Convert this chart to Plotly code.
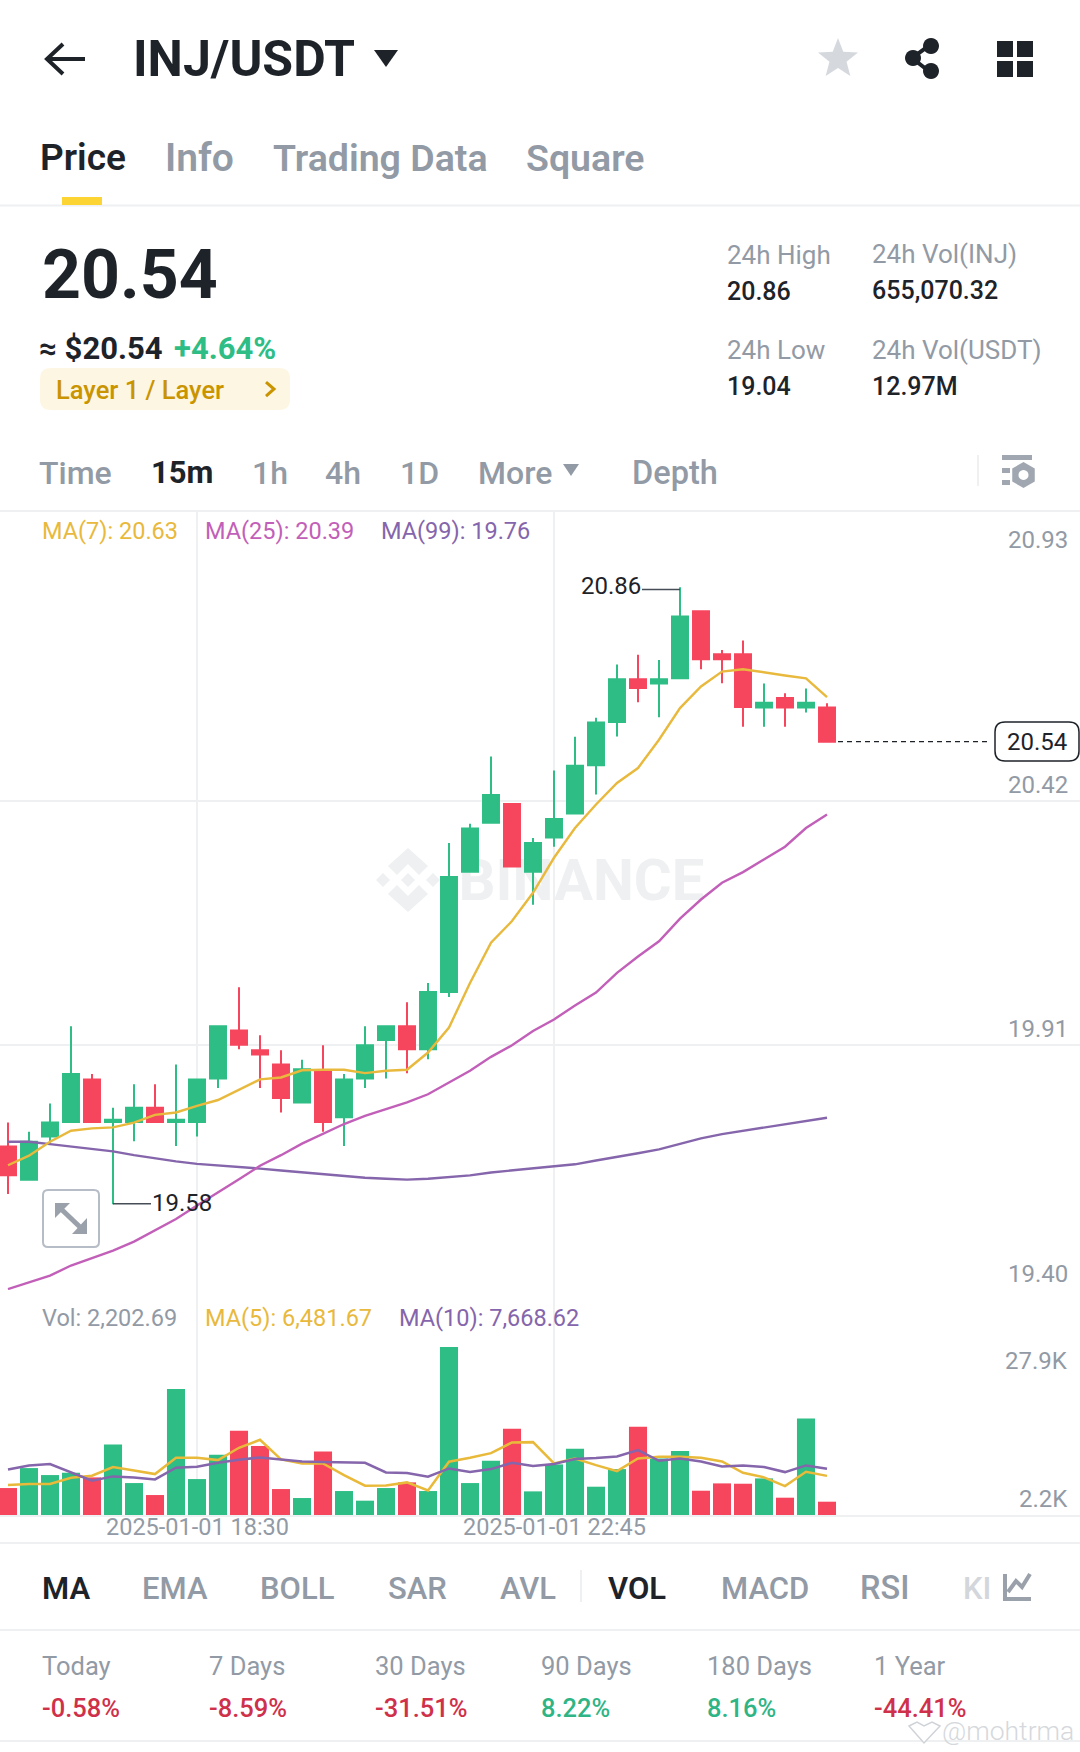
import math
import pandas as pd
import plotly.graph_objects as go

W = 1080
H = 1752

# 15m candles
times = pd.date_range("2025-01-01 16:15", periods=40, freq="15min")
opens = [19.699, 19.630, 19.720, 19.750, 19.839, 19.750, 19.750, 19.780, 19.750, 19.750,
         19.841, 19.941, 19.900, 19.870, 19.791, 19.857, 19.760, 19.841, 19.921, 19.950,
         19.902, 20.021, 20.272, 20.374, 20.413, 20.272, 20.343, 20.393, 20.494, 20.584,
         20.673, 20.664, 20.675, 20.815, 20.725, 20.725, 20.614, 20.634, 20.614, 20.614]
closes = [19.639, 19.709, 19.749, 19.850, 19.750, 19.755, 19.780, 19.750, 19.755, 19.839,
          19.950, 19.911, 19.891, 19.800, 19.860, 19.750, 19.839, 19.910, 19.950, 19.902,
          20.021, 20.261, 20.362, 20.432, 20.283, 20.332, 20.382, 20.493, 20.583, 20.673,
          20.655, 20.673, 20.804, 20.715, 20.715, 20.615, 20.624, 20.614, 20.624, 20.543]
highs = [19.749, 19.730, 19.789, 19.950, 19.850, 19.780, 19.829, 19.829, 19.870, 19.839,
         19.950, 20.031, 19.931, 19.900, 19.880, 19.910, 19.850, 19.950, 19.950, 20.000,
         20.040, 20.332, 20.372, 20.512, 20.413, 20.342, 20.483, 20.553, 20.593, 20.704,
         20.724, 20.713, 20.865, 20.815, 20.734, 20.754, 20.664, 20.644, 20.654, 20.623]
lows = [19.600, 19.630, 19.707, 19.750, 19.750, 19.579, 19.710, 19.750, 19.700, 19.720,
        19.821, 19.902, 19.821, 19.770, 19.791, 19.730, 19.700, 19.821, 19.841, 19.852,
        19.881, 20.011, 20.272, 20.374, 20.283, 20.203, 20.324, 20.393, 20.433, 20.554,
        20.625, 20.594, 20.675, 20.694, 20.665, 20.574, 20.574, 20.574, 20.604, 20.543]

ma7 = [19.660, 19.680, 19.709, 19.732, 19.737, 19.739, 19.749, 19.765, 19.770, 19.784,
       19.796, 19.818, 19.839, 19.843, 19.858, 19.859, 19.859, 19.852, 19.857, 19.859,
       19.895, 19.947, 20.040, 20.124, 20.169, 20.228, 20.301, 20.363, 20.412, 20.457,
       20.488, 20.547, 20.613, 20.658, 20.689, 20.694, 20.687, 20.681, 20.675, 20.636]
ma25 = [19.402, 19.416, 19.430, 19.451, 19.467, 19.482, 19.501, 19.524, 19.548, 19.576,
        19.603, 19.631, 19.659, 19.681, 19.705, 19.725, 19.746, 19.763, 19.777, 19.791,
        19.808, 19.832, 19.857, 19.886, 19.910, 19.940, 19.964, 19.993, 20.020, 20.061,
        20.095, 20.127, 20.174, 20.214, 20.249, 20.271, 20.297, 20.324, 20.363, 20.391]
ma99 = [19.709, 19.709, 19.704, 19.699, 19.693, 19.689, 19.681, 19.674, 19.668, 19.663,
        19.660, 19.657, 19.653, 19.649, 19.645, 19.641, 19.637, 19.634, 19.632, 19.630,
        19.632, 19.635, 19.639, 19.645, 19.649, 19.653, 19.657, 19.662, 19.670, 19.677,
        19.685, 19.693, 19.705, 19.716, 19.725, 19.732, 19.739, 19.745, 19.752, 19.759]

volumes = [4463, 7769, 6612, 6998, 6226, 11681, 5290, 3306, 20883, 5951,
           9973, 13940, 11406, 4298, 2810, 10524, 3967, 2369, 4463, 5400,
           3967, 27826, 5290, 8981, 14271, 3912, 8375, 10965, 4684, 7604,
           14602, 9367, 10579, 4022, 5235, 5179, 6061, 2865, 15979, 2203]
vol_ma5 = [4959, 5124, 5124, 6171, 6502, 7934, 7383, 6777, 9477, 9477,
           9092, 11130, 12453, 9202, 8541, 8541, 6612, 4849, 4904, 5400,
           4077, 8816, 9477, 10249, 12012, 12067, 8541, 9367, 8265, 7273,
           9367, 9643, 9643, 9477, 8871, 6998, 6226, 4794, 7163, 6482]
vol_ma10 = [7549, 8210, 8430, 6998, 5675, 6392, 6226, 5896, 7824, 7990,
            8651, 9147, 9532, 9202, 8871, 8761, 8706, 8651, 7053, 6943,
            6337, 7714, 7108, 7604, 8651, 8100, 8430, 9257, 9422, 9698,
            10745, 8981, 9367, 8871, 8045, 8210, 7934, 7108, 8210, 7669]

price_ticks = [20.93, 20.42, 19.91, 19.40]
vol_ticks = [27900, 2200]
vol_tick_labels = ["27.9K", "2.2K"]
date_labels = ["2025-01-01 18:30", "2025-01-01 22:45"]
date_ticks = [times[9], times[26]]
high_price = 20.86
low_price = 19.58

DARK = "#1e2329"
GREY = "#929aa5"
LINE = "#eef0f1"
GREEN = "#2ebd85"
RED = "#f6465d"
YELLOW = "#e8b93c"
MAGENTA = "#c25fb8"
PURPLE = "#8565ab"
FONT = "Roboto"


def px(x):
    return x / W


def py(y):
    return 1 - y / H


def pt(x, y):
    return f"{px(x):.5f},{py(y):.5f}"


def poly(points, close=True):
    s = "M" + " L".join(pt(x, y) for x, y in points)
    return s + " Z" if close else s


def round_rect(x0, y0, x1, y1, r):
    return ("M" + pt(x0 + r, y0) + " L" + pt(x1 - r, y0) + " Q" + pt(x1, y0) + " " + pt(x1, y0 + r)
            + " L" + pt(x1, y1 - r) + " Q" + pt(x1, y1) + " " + pt(x1 - r, y1)
            + " L" + pt(x0 + r, y1) + " Q" + pt(x0, y1) + " " + pt(x0, y1 - r)
            + " L" + pt(x0, y0 + r) + " Q" + pt(x0, y0) + " " + pt(x0 + r, y0) + " Z")


def circle(cx, cy, r):
    pts = [(cx + r * math.cos(a * math.pi / 12), cy + r * math.sin(a * math.pi / 12)) for a in range(24)]
    return poly(pts)


shapes = []
annotations = []


def add_path(path, fill=None, color=None, width=0, layer="above"):
    shapes.append(dict(type="path", path=path, xref="paper", yref="paper", layer=layer,
                       fillcolor=fill or "rgba(0,0,0,0)",
                       line=dict(color=color or "rgba(0,0,0,0)", width=width)))


def add_rule(x0, y0, x1, y1, color=LINE, width=2):
    shapes.append(dict(type="line", xref="paper", yref="paper", x0=px(x0), x1=px(x1), y0=py(y0), y1=py(y1),
                       line=dict(color=color, width=width), layer="below"))


def add_text(x, y, text, size, color, anchor="left", weight=400):
    # left anchored text lands about 2px right of the asked position
    if anchor == "left":
        x -= 2
    annotations.append(dict(x=px(x), y=py(y), xref="paper", yref="paper", text=text, showarrow=False,
                            xanchor=anchor, yanchor="middle", borderpad=0,
                            font=dict(family=FONT, size=size, color=color, weight=weight)))


# header
add_path(poly([(47, 59), (85, 59)], False), color=DARK, width=4)
add_path(poly([(63, 44), (47, 59), (63, 74)], False), color=DARK, width=4)
add_text(134, 59, "INJ/USDT", 50, DARK, weight=700)
add_path(poly([(374, 50), (398, 50), (386, 67)]), fill=DARK)

star = []
for i in range(10):
    r = 21 if i % 2 == 0 else 9
    a = -math.pi / 2 + i * math.pi / 5
    star.append((838 + r * math.cos(a), 59 + r * math.sin(a)))
add_path(poly(star), fill="#d5d9de")

add_path(poly([(930, 45), (912, 58), (930, 72)], False), color=DARK, width=4)
add_path(circle(931, 46, 8), fill=DARK)
add_path(circle(913, 58, 8), fill=DARK)
add_path(circle(931, 71, 8), fill=DARK)

for x0, y0 in [(997, 41), (1017, 41), (997, 61), (1017, 61)]:
    add_path(poly([(x0, y0), (x0 + 16, y0), (x0 + 16, y0 + 16), (x0, y0 + 16)]), fill=DARK)

# tabs
add_text(41, 158, "Price", 37, DARK, weight=600)
add_text(166, 158, "Info", 39, GREY, weight=600)
add_text(274, 158, "Trading Data", 37.5, GREY, weight=600)
add_text(527, 158, "Square", 37.5, GREY, weight=600)
add_path(poly([(62, 197), (102, 197), (102, 205), (62, 205)]), fill="#fcd535")
add_rule(0, 205.5, W, 205.5)

# price block
add_text(43, 275, "20.54", 68, DARK, weight=700)
add_text(40, 348, "≈ $20.54", 31, DARK, weight=700)
add_text(175, 348, "+4.64%", 31, GREEN, weight=700)
add_path(round_rect(40, 368, 290, 410, 11), fill="#fdf6e3")
add_text(57, 390, "Layer 1 / Layer", 25.5, "#c99400", weight=500)
add_path(poly([(266, 382), (274, 389), (266, 396)], False), color="#c99400", width=3)

add_text(728, 255, "24h High", 26, GREY)
add_text(728, 292, "20.86", 25, DARK, weight=500)
add_text(873, 254, "24h Vol(INJ)", 26, GREY)
add_text(873, 291, "655,070.32", 25, DARK, weight=500)
add_text(728, 350, "24h Low", 26, GREY)
add_text(728, 387, "19.04", 25, DARK, weight=500)
add_text(873, 350, "24h Vol(USDT)", 26, GREY)
add_text(873, 386, "12.97M", 25, DARK, weight=500)

# interval row
add_text(40, 473, "Time", 32, GREY, weight=500)
add_text(152, 473, "15m", 31, DARK, weight=700)
add_text(253, 473, "1h", 32, GREY, weight=500)
add_text(326, 473, "4h", 32, GREY, weight=500)
add_text(401, 473, "1D", 32, GREY, weight=500)
add_text(479, 473, "More", 32, GREY, weight=500)
add_path(poly([(563, 464), (579, 464), (571, 476)]), fill=GREY)
add_text(633, 473, "Depth", 32.5, GREY, weight=500)
add_rule(978, 455, 978, 486)
add_path(poly([(1002, 455), (1032, 455), (1032, 460), (1002, 460)]), fill="#a0a7b1")
add_path(poly([(1002, 468), (1010, 468), (1010, 473), (1002, 473)]), fill="#a0a7b1")
add_path(poly([(1002, 480), (1010, 480), (1010, 485), (1002, 485)]), fill="#a0a7b1")
hexagon = [(1023.5 + 13 * math.cos(a * math.pi / 3 + math.pi / 6), 475 + 13 * math.sin(a * math.pi / 3 + math.pi / 6))
           for a in range(6)]
add_path(poly(hexagon), fill="#a0a7b1")
add_path(circle(1023.5, 475, 5), fill="#ffffff")
add_rule(0, 511, W, 511)

# indicator captions
add_text(43, 531, "MA(7): 20.63", 23.5, YELLOW)
add_text(206, 531, "MA(25): 20.39", 23.5, MAGENTA)
add_text(382, 531, "MA(99): 19.76", 23.5, PURPLE)
add_text(43, 1318, "Vol: 2,202.69", 23.5, GREY)
add_text(206, 1318, "MA(5): 6,481.67", 23.5, YELLOW)
add_text(400, 1318, "MA(10): 7,668.62", 23.5, PURPLE)

# grid stubs above the price pane
add_rule(197, 511, 197, 556)
add_rule(554, 511, 554, 556)

# watermark
logo_top = [(408, 848), (428, 866), (419, 875), (408, 864), (397, 875), (388, 866)]
add_path(poly(logo_top), fill=LINE, layer="below")
add_path(poly([(x, 1760 - y) for x, y in logo_top]), fill=LINE, layer="below")
for cx in (383, 408, 433):
    add_path(poly([(cx - 7, 880), (cx, 873), (cx + 7, 880), (cx, 887)]), fill=LINE, layer="below")
shapes.append(dict(type="rect", xref="paper", yref="paper", x0=px(445), x1=px(718), y0=py(901), y1=py(851),
                   layer="below", line=dict(width=0), fillcolor="rgba(0,0,0,0)",
                   label=dict(text="BINANCE", textposition="middle center",
                              font=dict(family=FONT, size=58, color=LINE, weight=700))))

# expand button
add_path(round_rect(43, 1190, 99, 1247, 5), color="#b7bdc6", width=2, fill="#ffffff")
add_path(poly([(55, 1203), (70, 1203), (55, 1218)]), fill="#9aa1ab")
add_path(poly([(87, 1218), (87, 1234), (72, 1234)]), fill="#9aa1ab")
add_path(poly([(60, 1208), (80, 1227)], False), color="#9aa1ab", width=5)

# price markers
shapes.append(dict(type="line", xref="paper", yref="y", x0=px(838), x1=px(990), y0=closes[-1], y1=closes[-1],
                   line=dict(color=DARK, width=1.2, dash="5px,4px")))
add_path(round_rect(995, 722, 1079, 761, 10), color=DARK, width=1.5, fill="#ffffff")
add_text(1037, 742, "20.54", 24, DARK, anchor="center")
shapes.append(dict(type="line", xref="paper", yref="y", x0=px(642), x1=px(680), y0=high_price, y1=high_price,
                   line=dict(color="#474d57", width=1.5)))
add_text(642, 586, f"{high_price:.2f}", 24, DARK, anchor="right")
shapes.append(dict(type="line", xref="paper", yref="y", x0=px(113), x1=px(151), y0=low_price, y1=low_price,
                   line=dict(color="#474d57", width=1.5)))
add_text(153, 1203, f"{low_price:.2f}", 24, DARK)

# axis labels sit just above their grid lines
for v in price_ticks:
    annotations.append(dict(x=px(1070), xref="paper", y=v, yref="y", yshift=16, text=f"{v:.2f}", showarrow=False,
                            xanchor="right", yanchor="middle", font=dict(family=FONT, size=24, color=GREY)))
for v, label in zip(vol_ticks, vol_tick_labels):
    annotations.append(dict(x=px(1070), xref="paper", y=v, yref="y2", yshift=-14 if v > 10000 else 3, text=label,
                            showarrow=False, xanchor="right", yanchor="middle",
                            font=dict(family=FONT, size=24, color=GREY)))
for d, label in zip(date_ticks, date_labels):
    annotations.append(dict(x=d, xref="x2", y=py(1527), yref="paper", text=label, showarrow=False,
                            xanchor="center", yanchor="middle", font=dict(family=FONT, size=23.5, color=GREY)))

# indicator tabs
add_rule(0, 1543, W, 1543)
add_text(43, 1588, "MA", 31, DARK, weight=600)
add_text(143, 1588, "EMA", 31, GREY, weight=500)
add_text(261, 1588, "BOLL", 31, GREY, weight=500)
add_text(389, 1588, "SAR", 31, GREY, weight=500)
add_text(501, 1588, "AVL", 31, GREY, weight=500)
add_rule(581, 1570, 581, 1602)
add_text(609, 1588, "VOL", 31, DARK, weight=600)
add_text(722, 1588, "MACD", 31, GREY, weight=500)
add_text(861, 1588, "RSI", 32.5, GREY, weight=500)
add_text(964, 1588, "KI", 31, "#d3d6db", weight=500)
add_path(poly([(1005, 1574), (1005, 1599), (1031, 1599)], False), color="#9aa1ab", width=4)
add_path(poly([(1008, 1592), (1016, 1581), (1022, 1587), (1030, 1574)], False), color="#9aa1ab", width=4)
add_rule(0, 1630, W, 1630)

# performance row
stat_labels = ["Today", "7 Days", "30 Days", "90 Days", "180 Days", "1 Year"]
stat_values = ["-0.58%", "-8.59%", "-31.51%", "8.22%", "8.16%", "-44.41%"]
for x, label, value in zip([43, 210, 376, 542, 708, 875], stat_labels, stat_values):
    add_text(x, 1666, label, 25.5, GREY)
    add_text(x, 1708, value, 25.5, "#cf304a" if value.startswith("-") else "#2fb585", weight=500)
add_rule(0, 1741, W, 1741)

# site stamp
add_path(poly([(909, 1726), (917, 1722), (924, 1726), (932, 1722), (940, 1726), (924, 1743)]),
         color="#cfd3d8", width=1.5, fill="#ffffff")
add_text(943, 1730, "@mohtrma", 26.5, "#d5d8dc", weight=300)

x_start = times[0] + pd.Timedelta(minutes=15 * (-8 / 21))
x_end = times[0] + pd.Timedelta(minutes=15 * (1072 / 21))
bar_colors = [GREEN if c >= o else RED for o, c in zip(opens, closes)]

fig = go.Figure()
fig.add_trace(go.Candlestick(
    x=times, open=opens, high=highs, low=lows, close=closes, hoverinfo="skip",
    increasing=dict(line=dict(color=GREEN, width=2), fillcolor=GREEN),
    decreasing=dict(line=dict(color=RED, width=2), fillcolor=RED)))
for series, color in [(ma99, PURPLE), (ma25, MAGENTA), (ma7, YELLOW)]:
    fig.add_trace(go.Scatter(x=times, y=series, mode="lines", hoverinfo="skip",
                             line=dict(color=color, width=2.4)))
fig.add_trace(go.Bar(x=times, y=volumes, marker=dict(color=bar_colors, line=dict(width=0)),
                     hoverinfo="skip", xaxis="x2", yaxis="y2"))
for series, color in [(vol_ma5, "#e9b93a"), (vol_ma10, PURPLE)]:
    fig.add_trace(go.Scatter(x=times, y=series, mode="lines", hoverinfo="skip", xaxis="x2", yaxis="y2",
                             line=dict(color=color, width=2.5)))

fig.update_layout(
    width=W, height=H, margin=dict(l=0, r=0, t=0, b=0, pad=0),
    paper_bgcolor="#ffffff", plot_bgcolor="rgba(0,0,0,0)",
    showlegend=False, boxgap=0.24, boxgroupgap=0, bargap=0.14,
    font=dict(family=FONT, color=GREY),
    shapes=shapes, annotations=annotations,
    xaxis=dict(domain=[0, 1], anchor="y", range=[x_start, x_end], rangeslider=dict(visible=False),
               tickmode="array", tickvals=date_ticks, showticklabels=False, ticks="",
               showgrid=True, gridcolor=LINE, gridwidth=2, zeroline=False),
    yaxis=dict(domain=[py(1290), py(556)], anchor="x", range=[19.40, 20.93],
               tickmode="array", tickvals=price_ticks, showticklabels=False, ticks="",
               showgrid=True, gridcolor=LINE, gridwidth=2, zeroline=False),
    xaxis2=dict(domain=[0, 1], anchor="y2", range=[x_start, x_end],
                tickmode="array", tickvals=date_ticks, showticklabels=False, ticks="",
                showgrid=True, gridcolor=LINE, gridwidth=2, zeroline=False,
                showline=True, linecolor=LINE, linewidth=2),
    yaxis2=dict(domain=[py(1515), py(1290)], anchor="x2", range=[0, 37260],
                showticklabels=False, ticks="", showgrid=False, zeroline=False),
)

fig.write_html("out.html", post_script="document.body.style.margin='0';",
               config={"displayModeBar": False})
